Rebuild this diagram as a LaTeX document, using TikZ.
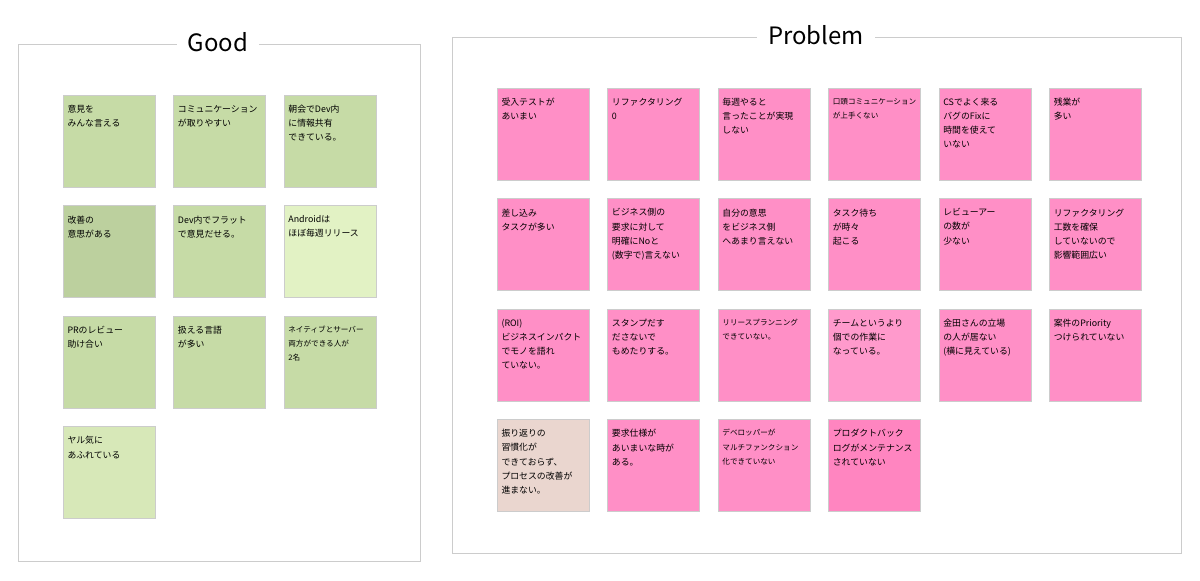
\documentclass[tikz,border=0pt]{standalone}
\usepackage{fontspec}
\setmainfont{Noto Sans CJK JP}
\usepackage{xcolor}
\usetikzlibrary{positioning}

\definecolor{goodgreen}{HTML}{C6DBA6}
\definecolor{goodlight}{HTML}{D7E8B8}
\definecolor{goodpale}{HTML}{E2F2C4}
\definecolor{probpink}{HTML}{FF8FC6}
\definecolor{probdeep}{HTML}{FF85C0}
\definecolor{probbeige}{HTML}{EAD6CF}
\definecolor{framegray}{HTML}{CCCCCC}

\begin{document}
\begin{tikzpicture}[
  x=0.025cm, y=-0.025cm,
  node distance=0.45cm,
  panel/.style={draw=framegray, line width=0.6pt},
  paneltitle/.style={fill=white, inner xsep=8pt, font=\fontsize{17}{20}\selectfont},
  note/.style={draw=black!20, line width=0.3pt, minimum width=2.3cm, minimum height=2.3cm, inner sep=0pt},
  gnote/.style={note, fill=goodgreen},
  pnote/.style={note, fill=probpink},
  memo/.style={anchor=north west, xshift=3pt, yshift=-7pt, align=left, inner sep=0pt,
    font=\fontsize{6.3}{10}\selectfont},
  smallmemo/.style={memo, font=\fontsize{5.4}{10}\selectfont}
]
\useasboundingbox (0,0) rectangle (1200,580);

% Good
\draw[panel] (18,44) rectangle (420,561);
\node[paneltitle] (goodtitle) at (218,42) {Good};

\node[gnote, anchor=north west] (g1) at (63,95) {};
\node[gnote, right=of g1] (g2) {};
\node[gnote, right=of g2] (g3) {};
\node[gnote, below=of g1, fill=goodgreen!95!black] (g4) {};
\node[gnote, right=of g4] (g5) {};
\node[gnote, right=of g5, fill=goodpale] (g6) {};
\node[gnote, below=of g4] (g7) {};
\node[gnote, right=of g7] (g8) {};
\node[gnote, right=of g8] (g9) {};
\node[gnote, below=of g7, fill=goodlight] (g10) {};

\node[memo] at (g1.north west) {意見を\\みんな言える};
\node[memo] at (g2.north west) {コミュニケーション\\が取りやすい};
\node[memo] at (g3.north west) {朝会でDev内\\に情報共有\\できている。};
\node[memo] at (g4.north west) {改善の\\意思がある};
\node[memo] at (g5.north west) {Dev内でフラット\\で意見だせる。};
\node[memo] at (g6.north west) {Androidは\\ほぼ毎週リリース};
\node[memo] at (g7.north west) {PRのレビュー\\助け合い};
\node[memo] at (g8.north west) {扱える言語\\が多い};
\node[smallmemo] at (g9.north west) {ネイティブとサーバー\\両方ができる人が\\2名};
\node[memo] at (g10.north west) {ヤル気に\\あふれている};

% Problem
\draw[panel] (452,37) rectangle (1181,553);
\node[paneltitle] (probtitle) at (816,35) {Problem};

\node[pnote, anchor=north west] (p1) at (497,88) {};
\node[pnote, right=of p1] (p2) {};
\node[pnote, right=of p2] (p3) {};
\node[pnote, right=of p3] (p4) {};
\node[pnote, right=of p4] (p5) {};
\node[pnote, right=of p5] (p6) {};
\node[pnote, below=of p1] (p7) {};
\node[pnote, right=of p7] (p8) {};
\node[pnote, right=of p8] (p9) {};
\node[pnote, right=of p9] (p10) {};
\node[pnote, right=of p10] (p11) {};
\node[pnote, right=of p11] (p12) {};
\node[pnote, below=of p7] (p13) {};
\node[pnote, right=of p13] (p14) {};
\node[pnote, right=of p14] (p15) {};
\node[pnote, right=of p15, fill=probpink!90!white] (p16) {};
\node[pnote, right=of p16] (p17) {};
\node[pnote, right=of p17] (p18) {};
\node[pnote, below=of p13, fill=probbeige] (p19) {};
\node[pnote, right=of p19] (p20) {};
\node[pnote, right=of p20] (p21) {};
\node[pnote, right=of p21, fill=probdeep] (p22) {};

\node[memo] at (p1.north west) {受入テストが\\あいまい};
\node[memo] at (p2.north west) {リファクタリング\\0};
\node[memo] at (p3.north west) {毎週やると\\言ったことが実現\\しない};
\node[smallmemo] at (p4.north west) {口頭コミュニケーション\\が上手くない};
\node[memo] at (p5.north west) {CSでよく来る\\バグのFixに\\時間を使えて\\いない};
\node[memo] at (p6.north west) {残業が\\多い};
\node[memo] at (p7.north west) {差し込み\\タスクが多い};
\node[memo] at (p8.north west) {ビジネス側の\\要求に対して\\明確にNoと\\(数字で)言えない};
\node[memo] at (p9.north west) {自分の意思\\をビジネス側\\へあまり言えない};
\node[memo] at (p10.north west) {タスク待ち\\が時々\\起こる};
\node[memo] at (p11.north west) {レビューアー\\の数が\\少ない};
\node[memo] at (p12.north west) {リファクタリング\\工数を確保\\していないので\\影響範囲広い};
\node[memo] at (p13.north west) {(ROI)\\ビジネスインパクト\\でモノを語れ\\ていない。};
\node[memo] at (p14.north west) {スタンプだす\\ださないで\\もめたりする。};
\node[smallmemo] at (p15.north west) {リリースプランニング\\できていない。};
\node[memo] at (p16.north west) {チームというより\\個での作業に\\なっている。};
\node[memo] at (p17.north west) {金田さんの立場\\の人が居ない\\(横に見えている)};
\node[memo] at (p18.north west) {案件のPriority\\つけられていない};
\node[memo] at (p19.north west) {振り返りの\\習慣化が\\できておらず、\\プロセスの改善が\\進まない。};
\node[memo] at (p20.north west) {要求仕様が\\あいまいな時が\\ある。};
\node[smallmemo] at (p21.north west) {デベロッパーが\\マルチファンクション\\化できていない};
\node[memo] at (p22.north west) {プロダクトバック\\ログがメンテナンス\\されていない};
\end{tikzpicture}
\end{document}
